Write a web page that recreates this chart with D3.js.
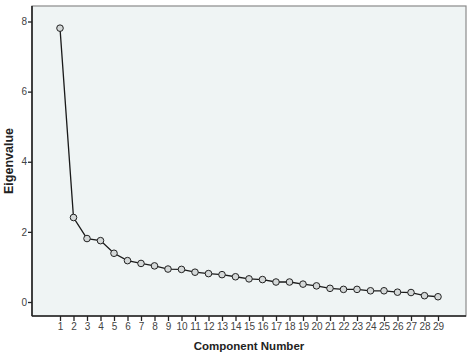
<!DOCTYPE html>
<html><head><meta charset="utf-8">
<script src="https://cdn.jsdelivr.net/npm/d3@7"></script>
<style>body{margin:0;background:#fff}svg{display:block}</style>
</head><body>
<script>
const components = d3.range(1, 30);
const eigenvalues = [7.81,2.41,1.81,1.75,1.39,1.18,1.10,1.03,0.94,0.93,0.85,0.81,0.78,0.72,0.66,0.64,0.57,0.57,0.51,0.46,0.39,0.36,0.36,0.32,0.32,0.28,0.27,0.18,0.15];
const yTicks = [0,2,4,6,8];

const W=474,H=356;
const pL=32,pT=6,pR=466,pB=316;
const svg=d3.select("body").append("svg").attr("width",W).attr("height",H);
const x=d3.scaleLinear().domain([1,29]).range([60,438]);
const y=d3.scaleLinear().domain([0,8]).range([302,21.5]);

svg.append("rect").attr("x",pL).attr("y",pT).attr("width",pR-pL).attr("height",pB-pT)
  .attr("fill","#eff4f4").attr("stroke","#8a8a8a").attr("stroke-width",1.2);

const xAxis=svg.append("g").attr("transform",`translate(0,${pB})`)
  .call(d3.axisBottom(x).tickValues(components).tickSize(5).tickSizeOuter(0).tickFormat(d3.format("d")));
const yAxis=svg.append("g").attr("transform",`translate(${pL},0)`)
  .call(d3.axisLeft(y).tickValues(yTicks).tickSize(4).tickSizeOuter(0));
[xAxis,yAxis].forEach(g=>{
  g.select(".domain").remove();
  g.selectAll(".tick line").attr("stroke","#222").attr("stroke-width",1.3);
  g.selectAll(".tick text").attr("font-family","Liberation Sans, Arial, sans-serif").attr("font-size",10).attr("fill","#444");
});
xAxis.selectAll(".tick text").attr("dy","0.9em").attr("y",5);
yAxis.selectAll(".tick text").attr("x",-5);
svg.append("line").attr("x1",pL).attr("x2",pL).attr("y1",pT).attr("y2",pB).attr("stroke","#222").attr("stroke-width",1.6);
svg.append("line").attr("x1",pL).attr("x2",pR).attr("y1",pB).attr("y2",pB).attr("stroke","#222").attr("stroke-width",1.6);

const data=components.map((c,i)=>({c,v:eigenvalues[i]}));
svg.append("path").datum(data).attr("fill","none").attr("stroke","#1a1a1a").attr("stroke-width",1.3)
  .attr("d",d3.line().x(d=>x(d.c)).y(d=>y(d.v)));
svg.selectAll("circle.pt").data(data).join("circle").attr("class","pt")
  .attr("cx",d=>x(d.c)).attr("cy",d=>y(d.v)).attr("r",3.3)
  .attr("fill","#d4d8d8").attr("stroke","#222").attr("stroke-width",1);

svg.append("text").attr("x",249).attr("y",350).attr("text-anchor","middle")
  .attr("font-family","Liberation Sans, Arial, sans-serif").attr("font-weight","bold").attr("font-size",11.5).attr("fill","#222")
  .text("Component Number");
svg.append("text").attr("transform","translate(13,161) rotate(-90)").attr("text-anchor","middle")
  .attr("font-family","Liberation Sans, Arial, sans-serif").attr("font-weight","bold").attr("font-size",12.5).attr("fill","#222")
  .text("Eigenvalue");
</script>
</body></html>
